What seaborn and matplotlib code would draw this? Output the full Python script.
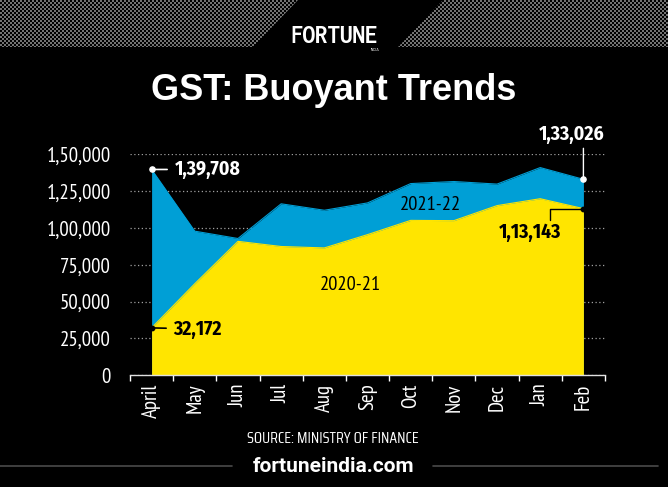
import os
import numpy as np
import pandas as pd
import seaborn as sns
import matplotlib.pyplot as plt
from matplotlib import font_manager
from matplotlib.font_manager import FontProperties
from matplotlib.textpath import TextToPath
from matplotlib.patches import Polygon
from matplotlib.lines import Line2D

months = ["April", "May", "Jun", "Jul", "Aug", "Sep", "Oct", "Nov", "Dec", "Jan", "Feb"]
gst_2021_22 = [139708, 97821, 92849, 116393, 112020, 117010, 130127, 131526, 129780, 140986, 133026]
gst_2020_21 = [32172, 62151, 90917, 87422, 86449, 95480, 105155, 104963, 115174, 119847, 113143]
yticks = [0, 25000, 50000, 75000, 100000, 125000, 150000]
ytick_labels = ["0", "25,000", "50,000", "75,000", "1,00,000", "1,25,000", "1,50,000"]

BLUE = "#009fd6"
YELLOW = "#ffe500"

sns.set_theme(style="dark", rc={"axes.facecolor": "black", "figure.facecolor": "black",
                                "savefig.facecolor": "black"})
plt.rcParams["font.family"] = ["Roboto", "DejaVu Sans"]

# choose the installed face whose proportions best match the condensed lettering
t2p = TextToPath()
fams = {"DejaVu Sans", "Liberation Sans", "Noto Sans", "Roboto", "Open Sans", "Lato", "Inter"}


def wt(f):
    w = f.weight
    return w if isinstance(w, int) else font_manager.weight_dict.get(w, 400)


faces = {}
for f in font_manager.fontManager.ttflist:
    base = os.path.basename(f.fname)
    ok = f.name in fams or "Narrow" in f.name or "Condensed" in f.name or "ondensed" in base
    if "Mono" in f.name or "Mono" in base:
        ok = False
    if ok and f.style == "normal" and wt(f) in (400, 700):
        faces.setdefault(wt(f), []).append(f.fname)


def measure(fp, s):
    w, h, d = t2p.get_text_width_height_descent(s, fp, False)
    return w * 100 / 72, (h - d) * 100 / 72


def best_face(bold, text, target_w, target_cap):
    best, best_err = None, 1e9
    for fname in faces.get(700 if bold else 400, []):
        fp = FontProperties(fname=fname, size=10)
        try:
            w, _ = measure(fp, text)
            _, cap = measure(fp, "H")
        except Exception:
            continue
        err = abs(np.log((w / cap) / (target_w / target_cap)))
        if err < best_err:
            best, best_err = fname, err
    return best


def sized(fname, bold, text, target_w):
    fp = FontProperties(fname=fname) if fname else FontProperties(family="Roboto", weight="bold" if bold else "normal")
    fp.set_size(10)
    w, _ = measure(fp, text)
    fp.set_size(10 * target_w / w)
    return fp


def face(bold, text, target_w, target_cap):
    return sized(best_face(bold, text, target_w, target_cap), bold, text, target_w)


df = pd.DataFrame({"x": np.arange(len(months)), "month": months,
                   "2021-22": gst_2021_22, "2020-21": gst_2020_21})

fig = plt.figure(figsize=(6.68, 4.87), dpi=100)
ax = fig.add_axes([130 / 668, 1 - 375.3 / 487, 475 / 668, 221 / 487])

# areas (2020-21 on top of 2021-22)
ax.fill_between(df["x"], df["2021-22"], color=BLUE, lw=0, zorder=2)
sns.lineplot(data=df, x="x", y="2021-22", color=BLUE, lw=0.8, ax=ax, zorder=2)
ax.fill_between(df["x"], df["2020-21"], color=YELLOW, lw=0, zorder=3)
sns.lineplot(data=df, x="x", y="2020-21", color=YELLOW, lw=0.8, ax=ax, zorder=3)

ax.set_xlim(-0.5, len(months) - 0.5)
ax.set_ylim(0, 150000)
ax.set_xlabel("")
ax.set_ylabel("")

REG = best_face(False, "1,50,000", 64, 15)
tick_fp = sized(REG, False, "1,50,000", 64)
ax.set_yticks(yticks)
ax.set_yticklabels(ytick_labels, color="white", fontproperties=tick_fp)
ax.set_xticks(df["x"])
ax.set_xticklabels(months, rotation=90, color="white", fontproperties=tick_fp)
ax.set_xticks(np.arange(-0.5, len(months), 1), minor=True)
ax.tick_params(axis="x", which="major", length=0, pad=6)
ax.tick_params(axis="x", which="minor", length=4, width=1, color="white", direction="out", bottom=True)
ax.tick_params(axis="y", length=0, pad=14)

ax.yaxis.grid(True, color="#a0a0a0", ls=(0, (1, 2)), lw=0.9)
ax.xaxis.grid(False)
ax.set_axisbelow(True)
for s in ["top", "right", "left"]:
    ax.spines[s].set_visible(False)
ax.spines["bottom"].set_color("#e0e0e0")
ax.spines["bottom"].set_linewidth(1)
ax.spines["bottom"].set_zorder(5)

# value callouts
first, last = 0, len(months) - 1
ax.scatter([first, last], [gst_2021_22[first], gst_2021_22[last]], s=14, color="white", zorder=6, clip_on=False)
ax.scatter([first, last], [gst_2020_21[first], gst_2020_21[last]], s=10, color="black", zorder=6, clip_on=False)

val_fp = face(True, "1,39,708", 66, 13.5)
ax.annotate("1,39,708", xy=(first, gst_2021_22[first]), xytext=(23, 0), textcoords="offset pixels",
            color="white", fontproperties=val_fp, va="center", ha="left",
            arrowprops=dict(arrowstyle="-", color="white", lw=1.2, shrinkA=3, shrinkB=0),
            annotation_clip=False, zorder=6)
ax.annotate("32,172", xy=(first, gst_2020_21[first]), xytext=(22, -1), textcoords="offset pixels",
            color="black", fontproperties=val_fp, va="center", ha="left",
            arrowprops=dict(arrowstyle="-", color="black", lw=1.2, shrinkA=3, shrinkB=0),
            annotation_clip=False, zorder=6)

ax.annotate("", xy=(last, gst_2021_22[last]), xytext=(0, 31), textcoords="offset pixels",
            arrowprops=dict(arrowstyle="-", color="white", lw=1, shrinkA=0, shrinkB=0),
            annotation_clip=False, zorder=6)
ax.annotate("1,33,026", xy=(last, gst_2021_22[last]), xytext=(-12, 45), textcoords="offset pixels",
            color="white", fontproperties=val_fp, va="center", ha="center",
            annotation_clip=False, zorder=6)

ax.annotate("", xy=(last, gst_2020_21[last]), xytext=(-33, -11), textcoords="offset pixels",
            arrowprops=dict(arrowstyle="-", color="black", lw=1, shrinkA=0, shrinkB=0,
                            connectionstyle="angle,angleA=90,angleB=0,rad=0"),
            annotation_clip=False, zorder=6)
ax.annotate("1,13,143", xy=(last, gst_2020_21[last]), xytext=(-53, -24), textcoords="offset pixels",
            color="black", fontproperties=val_fp, va="center", ha="center",
            annotation_clip=False, zorder=6)

series_fp = sized(REG, False, "2021-22", 61)
ax.text(6.46, 115600, "2021-22", color="black", fontproperties=series_fp, ha="center", va="center", zorder=6)
ax.text(4.6, 61300, "2020-21", color="black", fontproperties=series_fp, ha="center", va="center", zorder=6)

# header band: dotted texture clipped to two slanted shapes
yy, xx = np.mgrid[0:47, 0:668]
texture = ((xx // 2 + yy // 2) % 2 == 0).astype(float) * 0.45
bg = fig.add_axes([0, 440 / 487, 1, 47 / 487], zorder=-1)
bg.set_axis_off()
bg.set_xlim(0, 668)
bg.set_ylim(440, 487)
for pts in ([(0, 487), (298, 487), (253, 440), (0, 440)],
            [(443, 487), (668, 487), (668, 440), (398, 440)]):
    im = bg.imshow(texture, cmap="gray", vmin=0, vmax=1, extent=(0, 668, 440, 487),
                   interpolation="nearest", aspect="auto")
    poly = Polygon(pts, closed=True, transform=bg.transData, facecolor="none", lw=0)
    bg.add_patch(poly)
    im.set_clip_path(poly)

fig.text(334 / 668, 1 - 36.5 / 487, "FORTUNE", color="white", fontproperties=face(True, "FORTUNE", 88, 17),
         ha="center", va="center")
fig.text(375 / 668, 1 - 50 / 487, "INDIA", color="white", fontsize=2.5, ha="center", va="center")
fig.text(0.5, 1 - 90.5 / 487, "GST: Buoyant Trends", color="white",
         fontproperties=face(True, "GST: Buoyant Trends", 366, 24.3), ha="center", va="center")

fig.text(333 / 668, 1 - 438.8 / 487, "SOURCE: MINISTRY OF FINANCE", color="white",
         fontproperties=face(False, "SOURCE: MINISTRY OF FINANCE", 172, 10.9), ha="center", va="center")
fig.text(333.7 / 668, 1 - 466 / 487, "fortuneindia.com", color="white", fontsize=15, weight="bold",
         ha="center", va="center")
for x0, x1 in ((0, 232), (433, 658)):
    fig.add_artist(Line2D([x0 / 668, x1 / 668], [1 - 466 / 487] * 2, color="#4a4a4a", lw=1.2,
                          transform=fig.transFigure))

fig.savefig("out.png", dpi=100)
